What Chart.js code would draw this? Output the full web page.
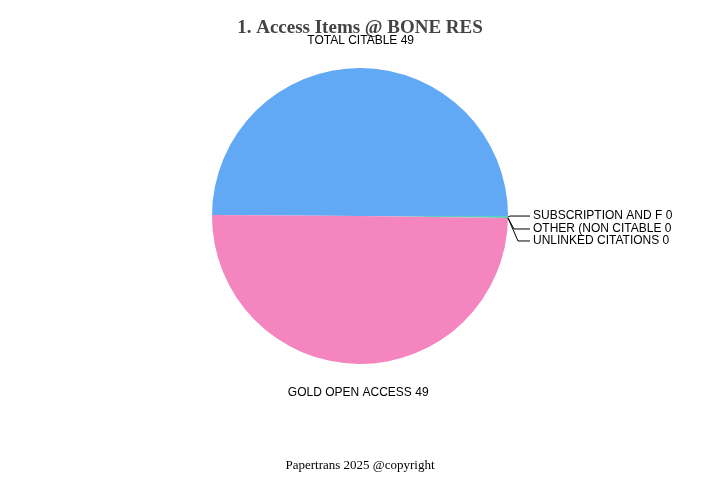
<!DOCTYPE html>
<html>
<head>
<meta charset="utf-8">
<script src="https://cdn.jsdelivr.net/npm/chart.js@4/dist/chart.umd.min.js"></script>
<style>
html,body{margin:0;padding:0;background:#fff;}
#wrap{width:720px;height:480px;position:relative;}
</style>
</head>
<body>
<div id="wrap"><canvas id="c" width="720" height="480"></canvas></div>
<script>
const chartTitle = "1. Access Items @ BONE RES";
const footerText = "Papertrans 2025 @copyright";
const categories = ["TOTAL CITABLE", "SUBSCRIPTION AND F", "OTHER (NON CITABLE", "UNLINKED CITATIONS", "GOLD OPEN ACCESS"];
const values = [49, 0.2, 0, 0, 49];
const colors = ["#62a9f5", "#5ecfb9", "#9b8ff0", "#f5c26b", "#f485be"];

const labelPlugin = {
  id: "pieLabels",
  afterDraw(chart) {
    const ctx = chart.ctx;
    const meta = chart.getDatasetMeta(0);
    ctx.save();
    // title
    ctx.fillStyle = "#444444";
    ctx.font = "bold 19px 'Liberation Serif', 'DejaVu Serif', serif";
    ctx.textAlign = "center";
    ctx.textBaseline = "middle";
    ctx.fillText(chartTitle, 360, 28);
    // footer
    ctx.fillStyle = "#000000";
    ctx.font = "13px 'Liberation Serif', 'DejaVu Serif', serif";
    ctx.fillText(footerText, 360, 466);

    ctx.font = "12px 'Liberation Sans', Arial, sans-serif";
    ctx.fillStyle = "#000";
    ctx.strokeStyle = "#000";
    ctx.lineWidth = 1;
    let smallIdx = 0;
    meta.data.forEach((arc, i) => {
      const p = arc.getProps(["x","y","startAngle","endAngle","outerRadius"], true);
      const mid = (p.startAngle + p.endAngle) / 2;
      const txt = categories[i] + " " + Math.round(values[i]);
      const ex = p.x + Math.cos(mid) * p.outerRadius;
      const ey = p.y + Math.sin(mid) * p.outerRadius;
      if (values[i] >= 5) {
        const off = Math.sin(mid) < 0 ? 27 : 29;
        const tx = p.x + Math.cos(mid) * (p.outerRadius + off);
        const ty = p.y + Math.sin(mid) * (p.outerRadius + off);
        ctx.textAlign = "center";
        ctx.fillText(txt, tx, ty);
      } else {
        const ly = ey - 1 + smallIdx * 12;
        const kx = ex + 2 + smallIdx * 4;
        ctx.beginPath();
        ctx.moveTo(ex, ey);
        ctx.lineTo(kx, ly);
        ctx.lineTo(ex + 22, ly);
        ctx.stroke();
        ctx.textAlign = "left";
        ctx.fillText(txt, ex + 25, ly);
        smallIdx++;
      }
    });
    ctx.restore();
  }
};

new Chart(document.getElementById("c"), {
  type: "pie",
  data: {
    labels: categories,
    datasets: [{ data: values, backgroundColor: colors, borderWidth: 0 }]
  },
  options: {
    responsive: false,
    animation: false,
    rotation: -89.6,
    layout: { padding: { top: 68, bottom: 116, left: 0, right: 0 } },
    plugins: { legend: { display: false }, tooltip: { enabled: false }, title: { display: false } }
  },
  plugins: [labelPlugin]
});
</script>
</body>
</html>
